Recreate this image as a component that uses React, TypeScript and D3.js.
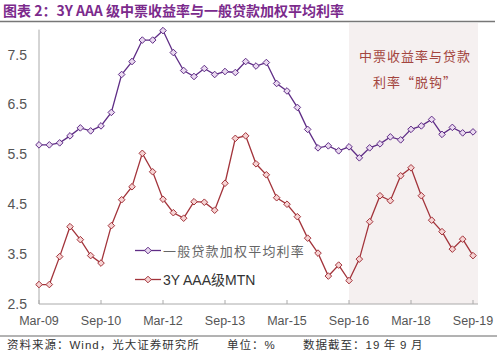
import React from "react";
import * as d3 from "d3";

const quarters: string[] = (() => {
  const out: string[] = [];
  const m = ["Mar", "Jun", "Sep", "Dec"];
  for (let y = 2009; y <= 2019; y++) for (let q = 0; q < 4; q++) {
    if (y === 2019 && q > 2) break;
    out.push(`${m[q]}-${String(y).slice(2)}`);
  }
  return out;
})();

const loanRate: number[] = [
  5.69, 5.69, 5.73, 5.87, 6.03, 5.97, 6.07, 6.34, 7.1, 7.36, 7.79, 7.79, 7.98, 7.54, 7.18, 7.06, 7.22, 7.1, 7.16, 7.14, 7.36,
  7.27, 7.34, 6.92, 6.77, 6.44, 6.0, 5.63, 5.67, 5.57, 5.65, 5.43, 5.63, 5.71, 5.85, 5.79, 6.0, 6.07, 6.2, 5.9, 6.04, 5.93, 5.95,
];

const mtnYield: number[] = [
  2.89, 2.89, 3.45, 4.05, 3.79, 3.47, 3.32, 4.07, 4.59, 4.85, 5.52, 5.15, 4.6, 4.33, 4.22, 4.55, 4.54, 4.38, 4.92, 5.82, 5.87,
  5.31, 5.09, 4.63, 4.5, 4.25, 3.82, 3.52, 3.06, 3.28, 2.97, 3.4, 4.15, 4.67, 4.57, 5.07, 5.23, 4.67, 4.18, 3.95, 3.6, 3.8, 3.47,
];

const xTickLabels: string[] = ["Mar-09", "Sep-10", "Mar-12", "Sep-13", "Mar-15", "Sep-16", "Mar-18", "Sep-19"];
const yTicks: number[] = [2.5, 3.5, 4.5, 5.5, 6.5, 7.5];
const seriesNames: string[] = ["一般贷款加权平均利率", "3Y AAA级MTN"];
const shadeFrom = "Sep-16";
const shadeTo = "Sep-19";

const W = 500, H = 355;
const x = d3.scaleLinear().domain([0, quarters.length - 1]).range([39, 473]);
const y = d3.scaleLinear().domain([2.5, 8]).range([304, 29.6]);

const sans = "'Liberation Sans', Arial, sans-serif";
const cjk = "'Noto Sans CJK SC', sans-serif";

const PURPLE = "#5f2d86";
const PURPLE_FILL = "#ead9f0";
const RED = "#a3343b";
const RED_FILL = "#f6d3d3";

function diamond(cx: number, cy: number, r = 3.3) {
  return `M${cx},${cy - r}L${cx + r},${cy}L${cx},${cy + r}L${cx - r},${cy}Z`;
}

function Series({ data, color, fill }: { data: number[]; color: string; fill: string }) {
  const line = d3.line<number>().x((_, i) => x(i)).y((d) => y(d));
  return (
    <g>
      <path d={line(data) || ""} fill="none" stroke={color} strokeWidth={1.3} />
      {data.map((d, i) => (
        <path key={i} d={diamond(x(i), y(d))} fill={fill} stroke={color} strokeWidth={1} />
      ))}
    </g>
  );
}

export default function App() {
  const s0 = x(quarters.indexOf(shadeFrom));
  const s1 = x(quarters.indexOf(shadeTo)) + 5;
  return (
    <svg width={W} height={H} style={{ position: "absolute", left: 0, top: 0, background: "#fff" }}>
      <text x={3} y={16} fontFamily={cjk} fontWeight={700} fontSize={14} fill="#7b2a8c">
        图表 2：3Y AAA 级中票收益率与一般贷款加权平均利率
      </text>
      <line x1={0} x2={495} y1={21.5} y2={21.5} stroke="#777" strokeWidth={1.5} />

      <rect x={s0} y={23} width={s1 - s0} height={304 - 23} fill="#f5f0f0" />

      {/* axes */}
      <line x1={39} x2={39} y1={29.6} y2={304} stroke="#aaa" strokeWidth={1} />
      <line x1={39} x2={478} y1={304} y2={304} stroke="#aaa" strokeWidth={1} />
      {yTicks.map((t) => (
        <text key={t} x={27} y={y(t) + 5} textAnchor="end" fontFamily={sans} fontSize={14} fill="#555">
          {t.toFixed(1)}
        </text>
      ))}
      {xTickLabels.map((lab) => {
        const i = quarters.indexOf(lab);
        return (
          <g key={lab}>
            <line x1={x(i)} x2={x(i)} y1={300} y2={304} stroke="#aaa" />
            <text x={x(i)} y={324.5} textAnchor="middle" fontFamily={sans} fontSize={12.5} fill="#555">
              {lab}
            </text>
          </g>
        );
      })}

      <Series data={loanRate} color={PURPLE} fill={PURPLE_FILL} />
      <Series data={mtnYield} color={RED} fill={RED_FILL} />

      {/* legend */}
      <line x1={135} x2={161} y1={250.5} y2={250.5} stroke={PURPLE} strokeWidth={1.3} />
      <path d={diamond(148, 250.5)} fill={PURPLE_FILL} stroke={PURPLE} />
      <text x={163} y={255.5} fontFamily={cjk} fontSize={13} letterSpacing={1.2} fill="#666">
        {seriesNames[0]}
      </text>
      <line x1={135} x2={161} y1={279.5} y2={279.5} stroke={RED} strokeWidth={1.3} />
      <path d={diamond(148, 279.5)} fill={RED_FILL} stroke={RED} />
      <text x={163} y={284.5} fontFamily={sans} fontSize={14} fill="#333">
        3Y AAA<tspan fontFamily={cjk}>级</tspan>MTN
      </text>

      {/* annotation */}
      <text x={415} y={61} textAnchor="middle" fontFamily={cjk} fontSize={13} letterSpacing={1} fill="#a3453e">
        中票收益率与贷款
      </text>
      <text x={415} y={87} textAnchor="middle" fontFamily={cjk} fontSize={13} letterSpacing={1} fill="#a3453e">
        利率“脱钩”
      </text>

      {/* footer */}
      <line x1={0} x2={497} y1={336} y2={336} stroke="#666" strokeWidth={1} />
      <text x={7} y={349} fontFamily={cjk} fontSize={11.5} letterSpacing={1} fill="#333">
        资料来源：<tspan fontFamily={sans}>Wind</tspan>，光大证券研究所
      </text>
      <text x={227} y={349} fontFamily={cjk} fontSize={11.5} letterSpacing={1} fill="#333">
        单位：<tspan fontFamily={sans}>%</tspan>
      </text>
      <text x={303} y={349} fontFamily={cjk} fontSize={11.5} letterSpacing={1} fill="#333">
        数据截至：<tspan fontFamily={sans}>19</tspan> 年 <tspan fontFamily={sans}>9</tspan> 月
      </text>
    </svg>
  );
}
